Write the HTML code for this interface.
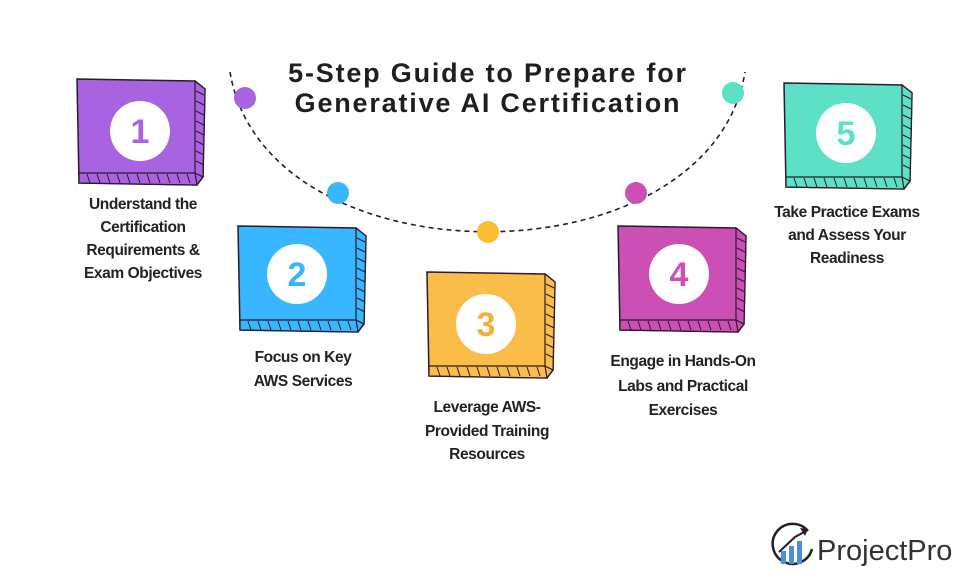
<!DOCTYPE html>
<html><head><style>
body{margin:0;background:#fff;width:977px;height:586px;overflow:hidden}
svg{display:block}
.t{font-family:"Liberation Sans",sans-serif;font-weight:bold;fill:#1f1f1f}
.l{font-family:"Liberation Sans",sans-serif;font-weight:bold;font-size:15.5px;fill:#222;text-anchor:middle;letter-spacing:-0.4px}
.n{font-family:"Liberation Sans",sans-serif;font-weight:bold;font-size:34px;text-anchor:middle}
</style></head><body>
<svg width="977" height="586" viewBox="0 0 977 586">
<defs>
<g id="box">
  <path d="M0,0 L118,2 L128,10 L126,98 L120,106 L2,104 Z" fill="currentColor" stroke="#2a1a2a" stroke-width="1.5"/>
  <path d="M118,2 L128,10 L126,98 L118,94 Z" fill="currentColor" stroke="#2a1a2a" stroke-width="1.2"/>
  <path d="M2,94 L118,94 L120,106 L2,104 Z" fill="currentColor" stroke="#2a1a2a" stroke-width="1.2"/>
  <g stroke="#2a1a2a" stroke-width="1">
    <path d="M10,95 l3,9 M20,95 l3,9 M30,95 l3,9 M40,95 l3,9 M50,95 l3,9 M60,95 l3,9 M70,95 l3,9 M80,95 l3,9 M90,95 l3,9 M100,95 l3,9 M110,95 l3,9"/>
    <path d="M119,12 l8,4 M119,22 l8,4 M119,32 l8,4 M119,42 l8,4 M119,52 l8,4 M119,62 l8,4 M119,72 l8,4 M119,82 l8,4"/>
  </g>
</g>
</defs>
<path d="M230,72 C265,285 710,285 745,72" fill="none" stroke="#222" stroke-width="1.6" stroke-dasharray="5,4"/>
<circle cx="245" cy="98" r="11" fill="#a863e0"/>
<circle cx="338" cy="193" r="11" fill="#38b6ff"/>
<circle cx="488" cy="232" r="11" fill="#fdbd30"/>
<circle cx="636" cy="193" r="11" fill="#cc4fb5"/>
<circle cx="733" cy="93" r="11" fill="#5ce1c6"/>
<text class="t" x="488" y="82" font-size="27" text-anchor="middle" letter-spacing="1.8">5-Step Guide to Prepare for</text>
<text class="t" x="488" y="112" font-size="27" text-anchor="middle" letter-spacing="1.8">Generative AI Certification</text>

<g transform="translate(77,79)" color="#a863e0"><use href="#box"/></g>
<circle cx="140" cy="131" r="30" fill="#fff"/><text class="n" x="140" y="143" fill="#a863e0">1</text>
<g transform="translate(238,226)" color="#38b6ff"><use href="#box"/></g>
<circle cx="297" cy="274" r="30" fill="#fff"/><text class="n" x="297" y="286" fill="#38b6ff">2</text>
<g transform="translate(427,272)" color="#fbbd4a"><use href="#box"/></g>
<circle cx="486" cy="324" r="30" fill="#fff"/><text class="n" x="486" y="336" fill="#f2b13a">3</text>
<g transform="translate(618,226)" color="#cc4fb5"><use href="#box"/></g>
<circle cx="679" cy="274" r="30" fill="#fff"/><text class="n" x="679" y="286" fill="#cc4fb5">4</text>
<g transform="translate(784,83)" color="#5ce1c6"><use href="#box"/></g>
<circle cx="846" cy="133" r="30" fill="#fff"/><text class="n" x="846" y="145" fill="#5ce1c6">5</text>

<text class="l"><tspan x="143" y="209">Understand the</tspan><tspan x="143" y="232">Certification</tspan><tspan x="143" y="255">Requirements &amp;</tspan><tspan x="143" y="278">Exam Objectives</tspan></text>
<text class="l"><tspan x="303" y="362">Focus on Key</tspan><tspan x="303" y="386">AWS Services</tspan></text>
<text class="l"><tspan x="487" y="412">Leverage AWS-</tspan><tspan x="487" y="436">Provided Training</tspan><tspan x="487" y="459">Resources</tspan></text>
<text class="l"><tspan x="683" y="366">Engage in Hands-On</tspan><tspan x="683" y="391">Labs and Practical</tspan><tspan x="683" y="415">Exercises</tspan></text>
<text class="l"><tspan x="847" y="217">Take Practice Exams</tspan><tspan x="847" y="240">and Assess Your</tspan><tspan x="847" y="263">Readiness</tspan></text>

<g>
  <path d="M808,531 A20,20 0 1 0 812,549" fill="none" stroke="#222" stroke-width="2.5"/>
  <rect x="781" y="551" width="5" height="13" fill="#4a90d9"/>
  <rect x="789" y="546" width="5" height="18" fill="#4a90d9"/>
  <rect x="797" y="541" width="5" height="23" fill="#4a90d9"/>
  <path d="M779,552 L795,537 L806,531" fill="none" stroke="#222" stroke-width="2"/>
  <path d="M800,528 L808,529 L805,536 Z" fill="#222"/>
  <text x="817" y="560" font-family="Liberation Sans,sans-serif" font-size="29" fill="#333">ProjectPro</text>
</g>
</svg>
</body></html>
